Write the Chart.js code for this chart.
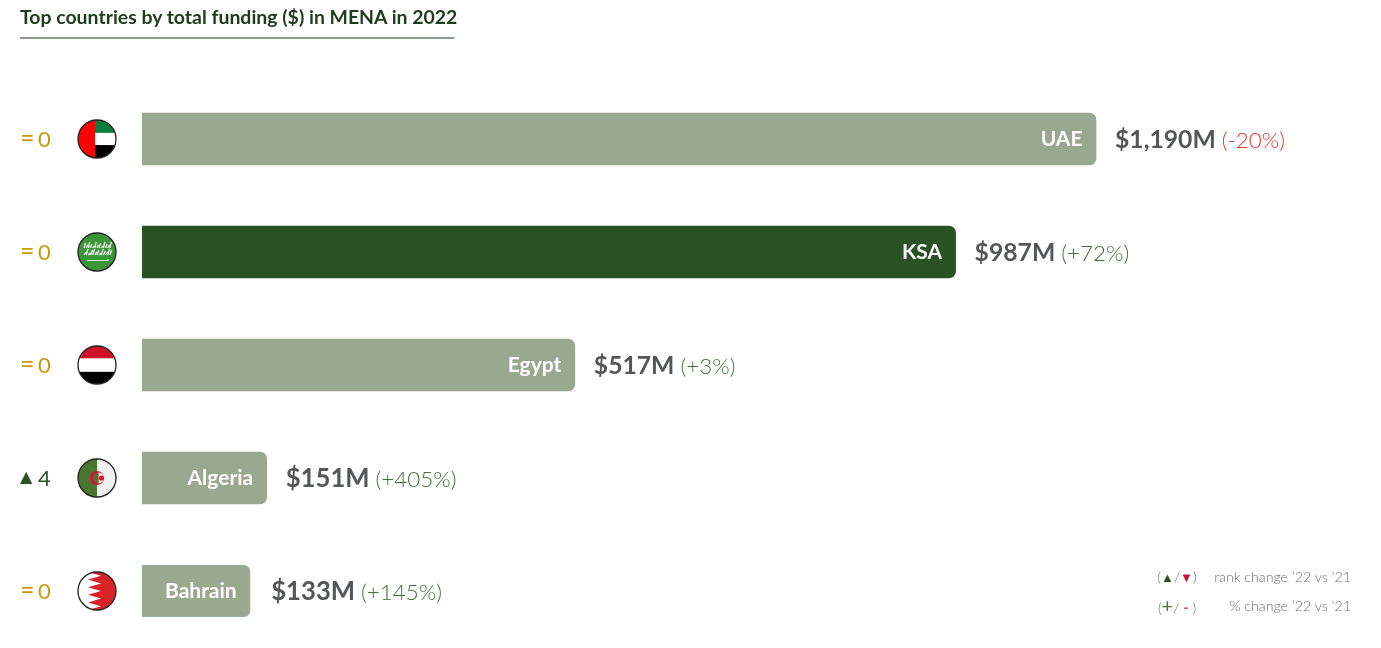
<!DOCTYPE html>
<html>
<head>
<meta charset="utf-8">
<title>Top countries by total funding</title>
<script src="https://cdn.jsdelivr.net/npm/chart.js@4"></script>
<style>
  html, body { margin: 0; padding: 0; background: #fff; width: 1381px; height: 648px; overflow: hidden; }
  body { position: relative; font-family: Lato, sans-serif; }
  #chart { position: absolute; left: 0; top: 0; }
  #title { position: absolute; left: 20px; top: 4px; width: 434px; height: 33px; line-height: 25px; font-size: 19.45px; font-weight: 700; color: #1f3d1d; border-bottom: 2px solid #8b988c; white-space: nowrap; }
  .key { position: absolute; font-size: 14.2px; font-weight: 300; color: #6f6f72; white-space: nowrap; line-height: 18px; }
  .key.sym { left: 1157px; width: 40px; text-align: center; }
  .key.txt { right: 30px; }
  .tri { font-size: 13px; font-family: "DejaVu Sans"; }
</style>
</head>
<body>
<canvas id="chart" width="1381" height="648"></canvas>
<div id="title">Top countries by total funding ($) in MENA in 2022</div>
<div class="key sym" style="top:568px">(<span class="tri" style="color:#2a5225">▲</span>/<span class="tri" style="color:#c8102e">▼</span>)</div>
<div class="key txt" style="top:568px">rank change ’22 vs ’21</div>
<div class="key sym" style="top:596px">(<span style="color:#4f7a45;font-weight:400;font-size:20px;line-height:18px">+</span>/ <span style="color:#e8433a;font-weight:700">-</span> )</div>
<div class="key txt" style="top:597px">% change ’22 vs ’21</div>
<script>
const countries = ["UAE", "KSA", "Egypt", "Algeria", "Bahrain"];
// bar lengths as drawn in the picture ($M), the UAE bar is drawn a bit shorter than its label
const barValues = [1155, 985, 524, 151, 131];
const fundingLabels = ["$1,190M", "$987M", "$517M", "$151M", "$133M"];
const changeLabels = ["(-20%)", "(+72%)", "(+3%)", "(+405%)", "(+145%)"];
const rankSymbols = ["=", "=", "=", "▲", "="];
const rankChanges = ["0", "0", "0", "4", "0"];
const barColors = ["#98a98f", "#2a5225", "#98a98f", "#98a98f", "#98a98f"];

function stripesH(ctx, colors, cx, cy, r, stops) {
  colors.forEach((c, i) => {
    ctx.fillStyle = c;
    ctx.fillRect(cx - r, cy - r + stops[i] * 2 * r, 2 * r, (stops[i + 1] - stops[i]) * 2 * r);
  });
}

// Flags, drawn around the centre of each row
const flags = {
  UAE(ctx, cx, cy, r) {
    stripesH(ctx, ["#0b7f3c", "#ffffff", "#000000"], cx, cy, r, [0, 0.34, 0.66, 1]);
    ctx.fillStyle = "#ff0000";
    ctx.fillRect(cx - r, cy - r, r - 2, 2 * r);
  },
  KSA(ctx, cx, cy, r) {
    ctx.fillStyle = "#3c9539";
    ctx.fillRect(cx - r, cy - r, 2 * r, 2 * r);
    // script block, two rows of short uneven strokes
    ctx.strokeStyle = "#fff";
    ctx.lineWidth = 1.2;
    ctx.beginPath();
    const upper = [5, 3, 6, 4, 2, 6, 3, 5, 2, 6, 4, 3, 6];
    const lower = [3, 6, 2, 5, 6, 3, 5, 2, 6, 4, 3, 6, 5];
    upper.forEach((h, i) => {
      const x = cx - 13 + i * 2.15;
      ctx.moveTo(x, cy - 4);
      ctx.lineTo(x + 1.5, cy - 4 - h);
      ctx.moveTo(x, cy + 3);
      ctx.lineTo(x + 2, cy + 3 - lower[i]);
    });
    ctx.stroke();
    // sword
    ctx.lineWidth = 1.2;
    ctx.beginPath();
    ctx.moveTo(cx - 10, cy + 8.5);
    ctx.lineTo(cx + 11, cy + 8.5);
    ctx.lineTo(cx + 11, cy + 7);
    ctx.stroke();
  },
  Egypt(ctx, cx, cy, r) {
    stripesH(ctx, ["#ce1126", "#ffffff", "#000000"], cx, cy, r, [0, 0.33, 0.68, 1]);
  },
  Algeria(ctx, cx, cy, r) {
    ctx.fillStyle = "#4b7530";
    ctx.fillRect(cx - r, cy - r, r, 2 * r);
    ctx.fillStyle = "#f0f0f0";
    ctx.fillRect(cx, cy - r, r, 2 * r);
    ctx.fillStyle = "#e0102f";
    ctx.beginPath();
    ctx.arc(cx, cy, 7, 0, Math.PI * 2);
    ctx.fill();
    ctx.fillStyle = "#4b7530";
    ctx.beginPath();
    ctx.arc(cx + 1.6, cy, 5.4, Math.PI / 2, Math.PI * 1.5);
    ctx.fill();
    ctx.fillStyle = "#f0f0f0";
    ctx.beginPath();
    ctx.arc(cx + 1.6, cy, 5.4, -Math.PI / 2, Math.PI / 2);
    ctx.fill();
    ctx.fillStyle = "#e0102f";
    ctx.beginPath();
    ctx.arc(cx + 4.5, cy, 2.6, 0, Math.PI * 2);
    ctx.fill();
  },
  Bahrain(ctx, cx, cy, r) {
    ctx.fillStyle = "#ffffff";
    ctx.fillRect(cx - r, cy - r, 2 * r, 2 * r);
    ctx.fillStyle = "#da2328";
    ctx.beginPath();
    ctx.moveTo(cx + r, cy - r);
    ctx.lineTo(cx - 9, cy - r);
    const teeth = 5;
    const h = (2 * r) / teeth;
    for (let i = 0; i < teeth; i++) {
      const y = cy - r + i * h;
      ctx.lineTo(cx + 4, y + h / 2);
      ctx.lineTo(cx - 9, y + h);
    }
    ctx.lineTo(cx + r, cy + r);
    ctx.closePath();
    ctx.fill();
  },
};

// Draws rank change, flag, label inside the bar, value and % change for each row
const rowDecorations = {
  id: "rowDecorations",
  afterDatasetsDraw(chart) {
    const ctx = chart.ctx;
    const bars = chart.getDatasetMeta(0).data;
    ctx.save();
    ctx.textBaseline = "middle";
    bars.forEach((bar, i) => {
      const y = bar.y;
      // rank
      const up = rankSymbols[i] === "▲";
      ctx.fillStyle = up ? "#2a5225" : "#c79a0e";
      ctx.textAlign = "left";
      ctx.font = up ? "16px 'DejaVu Sans'" : "400 25px Lato";
      ctx.fillText(rankSymbols[i], 20, y);
      ctx.font = "400 22px Lato";
      ctx.fillText(rankChanges[i], 38, y + 1);

      // flag
      const cx = 97, r = 19;
      ctx.save();
      ctx.beginPath();
      ctx.arc(cx, y, r, 0, Math.PI * 2);
      ctx.clip();
      flags[countries[i]](ctx, cx, y, r);
      ctx.restore();
      ctx.strokeStyle = "#222";
      ctx.lineWidth = 1.3;
      ctx.beginPath();
      ctx.arc(cx, y, r, 0, Math.PI * 2);
      ctx.stroke();

      // label inside the bar
      ctx.fillStyle = "#fff";
      ctx.textAlign = "right";
      ctx.font = "700 21px Lato";
      ctx.fillText(countries[i], bar.x - 13.5, y);

      // value and change, the two short bars have a slightly larger value text
      ctx.textAlign = "left";
      ctx.fillStyle = "#55565a";
      ctx.font = `700 ${i >= 3 ? 25.7 : 24.7}px Lato`;
      const vx = bar.x + (countries[i] === "Bahrain" ? 21 : 19);
      ctx.fillText(fundingLabels[i], vx, y + 1);
      const w = ctx.measureText(fundingLabels[i]).width;
      ctx.fillStyle = changeLabels[i].includes("-") ? "#e53a2f" : "#3f7035";
      ctx.font = "300 22.4px Lato";
      ctx.fillText(changeLabels[i], vx + w + 6, y + 2);
    });
    ctx.restore();
  },
};

const chart = new Chart(document.getElementById("chart"), {
  type: "bar",
  data: {
    labels: countries,
    datasets: [
      {
        data: barValues,
        backgroundColor: barColors,
        borderColor: "#8fb5ae",
        borderWidth: [0, 0, 0, 0, 1],
        barThickness: 52,
        borderRadius: { topRight: 7, bottomRight: 7, topLeft: 0, bottomLeft: 0 },
        borderSkipped: "left",
      },
    ],
  },
  options: {
    indexAxis: "y",
    responsive: false,
    animation: false,
    layout: { padding: { left: 142, right: 0, top: 82.5, bottom: 0.5 } },
    plugins: {
      legend: { display: false },
      title: { display: false },
      tooltip: { enabled: false },
    },
    scales: {
      x: { display: false, min: 0, max: 1500 },
      y: { display: false },
    },
  },
  plugins: [rowDecorations],
});
</script>
</body>
</html>
